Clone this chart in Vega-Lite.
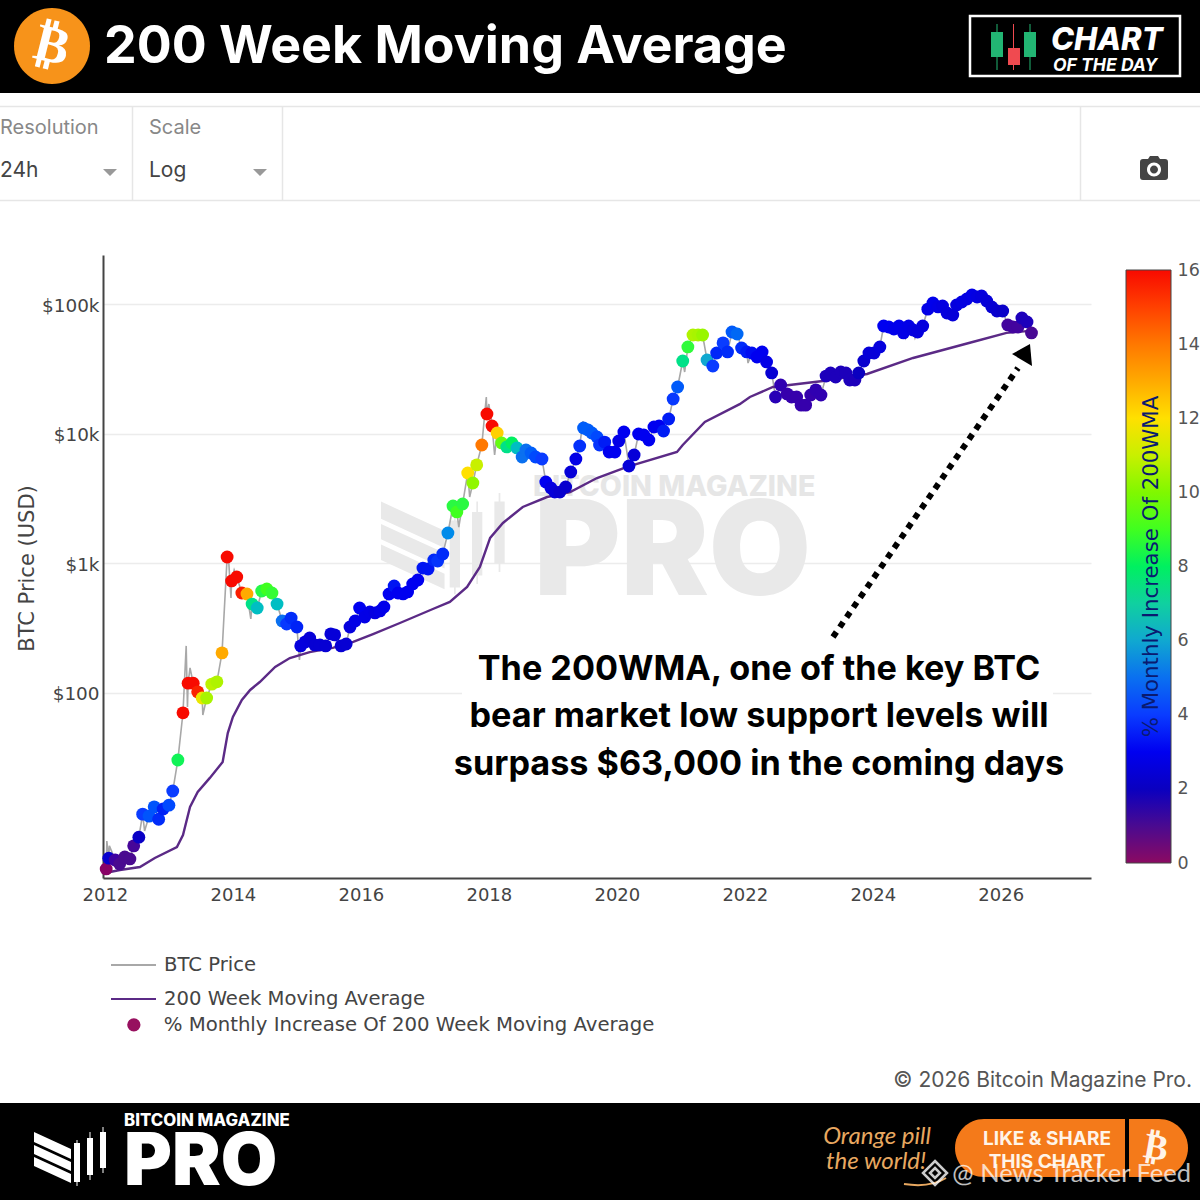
{
"$schema":"https://vega.github.io/schema/vega-lite/v6.json",
"width":988,"height":623,
"autosize":{"type":"none"},
"padding":{"left":103,"top":255,"right":109,"bottom":322},
"background":"#ffffff",
"datasets":{
"btc":[
{"t":2012.02,"price":4.38,"pct":0.1},{"t":2012.06,"price":5.3,"pct":2.3},{"t":2012.16,"price":5.13,"pct":1.4},{"t":2012.23,"price":4.78,"pct":1.0},{"t":2012.31,"price":5.42,"pct":1.0},{"t":2012.39,"price":5.23,"pct":1.0},{"t":2012.45,"price":6.6,"pct":1.2},{"t":2012.53,"price":7.7,"pct":2.1},{"t":2012.59,"price":11.6,"pct":4.0},{"t":2012.69,"price":11.2,"pct":4.4},{"t":2012.77,"price":13.2,"pct":4.4},{"t":2012.84,"price":10.6,"pct":3.6},{"t":2012.91,"price":12.7,"pct":3.4},{"t":2013.0,"price":13.6,"pct":4.2},{"t":2013.06,"price":17.5,"pct":4.0},{"t":2013.14,"price":30.4,"pct":8.2},{"t":2013.22,"price":70.3,"pct":16},{"t":2013.3,"price":119,"pct":16},{"t":2013.38,"price":119,"pct":16},{"t":2013.45,"price":102,"pct":15.7},{"t":2013.52,"price":91.5,"pct":11.6},{"t":2013.59,"price":91.5,"pct":10.5},{"t":2013.67,"price":117,"pct":10.8},{"t":2013.75,"price":122,"pct":10.6},{"t":2013.83,"price":204,"pct":13},{"t":2013.91,"price":1123,"pct":16},{"t":2013.98,"price":733,"pct":16},{"t":2014.06,"price":787,"pct":16},{"t":2014.14,"price":592,"pct":15.8},{"t":2014.22,"price":581,"pct":13},{"t":2014.3,"price":486,"pct":7.5},{"t":2014.38,"price":453,"pct":6.5},{"t":2014.45,"price":613,"pct":8.5},{"t":2014.53,"price":635,"pct":9},{"t":2014.61,"price":592,"pct":8.8},{"t":2014.69,"price":486,"pct":6.5},{"t":2014.77,"price":360,"pct":5},{"t":2014.84,"price":341,"pct":3.9},{"t":2014.91,"price":379,"pct":3.6},{"t":2015.0,"price":323,"pct":3.4},{"t":2015.06,"price":231,"pct":2.6},{"t":2015.13,"price":248,"pct":2.6},{"t":2015.2,"price":266,"pct":2.5},{"t":2015.28,"price":235,"pct":2.4},{"t":2015.36,"price":235,"pct":2.4},{"t":2015.45,"price":231,"pct":2.4},{"t":2015.53,"price":286,"pct":2.5},{"t":2015.59,"price":281,"pct":2.5},{"t":2015.69,"price":231,"pct":2.4},{"t":2015.77,"price":239,"pct":2.4},{"t":2015.83,"price":323,"pct":2.6},{"t":2015.91,"price":360,"pct":2.8},{"t":2015.98,"price":453,"pct":3},{"t":2016.06,"price":386,"pct":2.8},{"t":2016.14,"price":422,"pct":2.8},{"t":2016.22,"price":415,"pct":2.7},{"t":2016.3,"price":430,"pct":2.8},{"t":2016.36,"price":461,"pct":2.9},{"t":2016.44,"price":581,"pct":3},{"t":2016.52,"price":670,"pct":3.2},{"t":2016.58,"price":592,"pct":3},{"t":2016.66,"price":582,"pct":3},{"t":2016.73,"price":603,"pct":3},{"t":2016.81,"price":695,"pct":3},{"t":2016.89,"price":745,"pct":3},{"t":2016.97,"price":922,"pct":3.2},{"t":2017.05,"price":907,"pct":3.2},{"t":2017.14,"price":1064,"pct":3.5},{"t":2017.2,"price":1045,"pct":3.8},{"t":2017.28,"price":1184,"pct":3.6},{"t":2017.36,"price":1720,"pct":5.4},{"t":2017.44,"price":2780,"pct":8.6},{"t":2017.5,"price":2500,"pct":9},{"t":2017.59,"price":2880,"pct":8.6},{"t":2017.67,"price":5000,"pct":12},{"t":2017.75,"price":4180,"pct":10.2},{"t":2017.81,"price":5770,"pct":11},{"t":2017.89,"price":8220,"pct":14},{"t":2017.97,"price":14270,"pct":16},{"t":2018.05,"price":11530,"pct":16},{"t":2018.13,"price":10180,"pct":12.3},{"t":2018.2,"price":8530,"pct":9.5},{"t":2018.28,"price":7940,"pct":7.5},{"t":2018.36,"price":8530,"pct":8},{"t":2018.44,"price":7800,"pct":6.5},{"t":2018.52,"price":6640,"pct":5},{"t":2018.58,"price":7520,"pct":5},{"t":2018.66,"price":7130,"pct":4.6},{"t":2018.73,"price":6640,"pct":4.2},{"t":2018.83,"price":6410,"pct":4},{"t":2018.89,"price":4260,"pct":3},{"t":2018.97,"price":3830,"pct":2.7},{"t":2019.03,"price":3560,"pct":2.5},{"t":2019.11,"price":3560,"pct":2.3},{"t":2019.2,"price":3900,"pct":2.3},{"t":2019.28,"price":5090,"pct":2.5},{"t":2019.36,"price":6410,"pct":2.8},{"t":2019.42,"price":8080,"pct":3.7},{"t":2019.48,"price":11130,"pct":4.6},{"t":2019.55,"price":10740,"pct":4.6},{"t":2019.61,"price":10180,"pct":4.5},{"t":2019.69,"price":9480,"pct":4.2},{"t":2019.73,"price":8220,"pct":3.8},{"t":2019.81,"price":8650,"pct":3.3},{"t":2019.88,"price":7260,"pct":3},{"t":2019.97,"price":7260,"pct":3},{"t":2020.03,"price":8830,"pct":2.8},{"t":2020.11,"price":10360,"pct":3},{"t":2020.19,"price":5660,"pct":2.5},{"t":2020.27,"price":6890,"pct":2.5},{"t":2020.34,"price":10000,"pct":3},{"t":2020.42,"price":9820,"pct":3},{"t":2020.5,"price":8990,"pct":3},{"t":2020.58,"price":11330,"pct":3},{"t":2020.66,"price":11530,"pct":3},{"t":2020.73,"price":10550,"pct":3.3},{"t":2020.81,"price":13060,"pct":3.3},{"t":2020.88,"price":18630,"pct":3.9},{"t":2020.95,"price":23060,"pct":4.5},{"t":2021.03,"price":36600,"pct":7.5},{"t":2021.11,"price":47000,"pct":8.7},{"t":2021.19,"price":58100,"pct":10.6},{"t":2021.27,"price":58100,"pct":10.5},{"t":2021.34,"price":58100,"pct":10.3},{"t":2021.41,"price":37270,"pct":6},{"t":2021.5,"price":33500,"pct":4},{"t":2021.56,"price":42200,"pct":3.5},{"t":2021.66,"price":50500,"pct":4},{"t":2021.73,"price":43000,"pct":3.6},{"t":2021.8,"price":61300,"pct":4.5},{"t":2021.88,"price":59200,"pct":4.8},{"t":2021.95,"price":46100,"pct":3.6},{"t":2022.03,"price":43000,"pct":3.3},{"t":2022.11,"price":42200,"pct":3.1},{"t":2022.19,"price":39300,"pct":3},{"t":2022.27,"price":43000,"pct":3},{"t":2022.34,"price":36000,"pct":2.8},{"t":2022.42,"price":29600,"pct":2.4},{"t":2022.48,"price":19300,"pct":1.8},{"t":2022.56,"price":23900,"pct":1.7},{"t":2022.66,"price":20400,"pct":1.6},{"t":2022.73,"price":19300,"pct":1.6},{"t":2022.81,"price":19300,"pct":1.6},{"t":2022.88,"price":16700,"pct":1.6},{"t":2022.95,"price":16700,"pct":1.6},{"t":2023.03,"price":20000,"pct":1.6},{"t":2023.11,"price":21900,"pct":1.7},{"t":2023.19,"price":20000,"pct":1.7},{"t":2023.27,"price":28000,"pct":1.9},{"t":2023.34,"price":29600,"pct":1.9},{"t":2023.42,"price":27500,"pct":1.9},{"t":2023.5,"price":30100,"pct":1.9},{"t":2023.58,"price":29600,"pct":1.9},{"t":2023.64,"price":26100,"pct":1.9},{"t":2023.72,"price":26100,"pct":1.9},{"t":2023.78,"price":29600,"pct":2},{"t":2023.86,"price":36600,"pct":2.3},{"t":2023.94,"price":42200,"pct":2.5},{"t":2024.02,"price":42200,"pct":2.5},{"t":2024.11,"price":47000,"pct":2.6},{"t":2024.17,"price":68200,"pct":3},{"t":2024.25,"price":67000,"pct":3},{"t":2024.33,"price":64700,"pct":2.9},{"t":2024.41,"price":68200,"pct":2.9},{"t":2024.48,"price":60300,"pct":2.8},{"t":2024.56,"price":68200,"pct":2.8},{"t":2024.63,"price":63500,"pct":2.7},{"t":2024.7,"price":61300,"pct":2.6},{"t":2024.78,"price":68200,"pct":2.6},{"t":2024.86,"price":92000,"pct":2.8},{"t":2024.94,"price":102700,"pct":2.9},{"t":2025.02,"price":95700,"pct":2.8},{"t":2025.09,"price":97400,"pct":2.7},{"t":2025.16,"price":86000,"pct":2.6},{"t":2025.25,"price":83000,"pct":2.5},{"t":2025.31,"price":99000,"pct":2.6},{"t":2025.39,"price":104500,"pct":2.7},{"t":2025.47,"price":110300,"pct":2.7},{"t":2025.55,"price":118400,"pct":2.8},{"t":2025.63,"price":114300,"pct":2.7},{"t":2025.7,"price":116300,"pct":2.6},{"t":2025.78,"price":106400,"pct":2.5},{"t":2025.86,"price":95700,"pct":2.4},{"t":2025.94,"price":89000,"pct":2.3},{"t":2026.03,"price":89000,"pct":2.2},{"t":2026.11,"price":69500,"pct":1.3},{"t":2026.19,"price":67000,"pct":1.3},{"t":2026.27,"price":67000,"pct":1.3},{"t":2026.33,"price":78700,"pct":1.9},{"t":2026.41,"price":73300,"pct":1.9},{"t":2026.48,"price":60300,"pct":1.1},
{"t":2012.03,"price":7.2},{"t":2012.07,"price":6.6},{"t":2012.62,"price":8.6},{"t":2013.27,"price":231},{"t":2013.29,"price":78},{"t":2013.33,"price":156},{"t":2013.53,"price":67.6},{"t":2013.93,"price":1130},{"t":2013.97,"price":541},{"t":2014.02,"price":890},{"t":2014.28,"price":373},{"t":2015.04,"price":180},{"t":2017.53,"price":1910},{"t":2017.7,"price":3260},{"t":2017.96,"price":19300},{"t":2018.0,"price":17040},{"t":2018.09,"price":6890},{"t":2019.47,"price":12600},{"t":2021.06,"price":30100},{"t":2022.05,"price":35300},{"t":2024.51,"price":55100},{"t":2024.66,"price":55100}
],
"wma":[
{"t":2012.0,"price":4.07},{"t":2012.234,"price":4.3},{"t":2012.547,"price":4.53},{"t":2012.78,"price":5.32},{"t":2013.125,"price":6.47},{"t":2013.22,"price":8},{"t":2013.33,"price":13.2},{"t":2013.45,"price":17.2},{"t":2013.64,"price":22.1},{"t":2013.84,"price":29.3},{"t":2013.92,"price":49},{"t":2014.0,"price":65.3},{"t":2014.14,"price":88.3},{"t":2014.27,"price":105.5},{"t":2014.42,"price":121.6},{"t":2014.66,"price":158.7},{"t":2014.89,"price":186},{"t":2015.2,"price":207},{"t":2015.56,"price":223},{"t":2015.88,"price":248},{"t":2016.19,"price":285},{"t":2016.61,"price":347},{"t":2017.125,"price":445},{"t":2017.39,"price":505},{"t":2017.66,"price":659},{"t":2017.86,"price":940},{"t":2018.02,"price":1574},{"t":2018.22,"price":2055},{"t":2018.53,"price":2730},{"t":2018.91,"price":3260},{"t":2019.27,"price":3560},{"t":2019.69,"price":4570},{"t":2020.16,"price":5570},{"t":2020.94,"price":7260},{"t":2021.03,"price":8220},{"t":2021.375,"price":12380},{"t":2021.92,"price":17000},{"t":2022.08,"price":19300},{"t":2022.44,"price":23060},{"t":2023.22,"price":25640},{"t":2023.91,"price":29060},{"t":2024.63,"price":38620},{"t":2025.56,"price":51300},{"t":2026.09,"price":60300},{"t":2026.45,"price":62500}
]
},
"layer":[
{"data":{"values":[{}]},"mark":{"type":"point","shape":"M0,5L37,22V32L0,15Z M0,18L37,35V44L0,27Z M0,30L37,47V56L0,39Z M40,16H42.5V13H43.5V16H46V55H43.5V59H42.5V55H40Z M53,11H55.5V5H56.5V11H59V48H56.5V53H55.5V48H53Z M66,5H68.5V0H69.5V5H72V41H69.5V46H68.5V41H66Z","size":11.8,"x":278,"y":238,"filled":true,"fill":"#e9e9e9","strokeWidth":0,"opacity":1},"encoding":{}},
{"data":{"values":[{}]},"mark":{"type":"text","text":"BITCOIN MAGAZINE","x":430,"y":241,"align":"left","baseline":"alphabetic","font":"Inter","fontWeight":800,"fontSize":28.6,"fill":"#e6e6e6"},"encoding":{}},
{"data":{"values":[{}]},"mark":{"type":"text","text":"PRO","x":431,"y":340,"align":"left","baseline":"alphabetic","font":"Inter","fontWeight":900,"fontSize":132,"fill":"#e9e9e9"},"encoding":{}},
{"data":{"values":[{}]},"mark":{"type":"point","shape":"M462,650H1053V790H462Z","size":4,"x":-103,"y":-255,"filled":true,"fill":"#ffffff","strokeWidth":0,"opacity":1},"encoding":{}},
{"layer":[
{"data":{"name":"btc"},"mark":{"type":"line","strokeWidth":1.6,"interpolate":"linear"},
 "encoding":{
  "x":{"field":"t","type":"quantitative","scale":{"domain":[2011.97,2027.41],"nice":false,"zero":false},
   "axis":{"values":[2012,2014,2016,2018,2020,2022,2024,2026],"format":"d","title":null,"grid":false,"ticks":false,"labelPadding":8,"labelFont":"DejaVu Sans","labelFontSize":18,"labelColor":"#444444","domainColor":"#444444","domainWidth":2,"labelOverlap":false}},
  "y":{"field":"price","type":"quantitative","scale":{"type":"log","domain":[3.727,241000],"nice":false},
   "axis":{"orient":"left","values":[100,1000,10000,100000],"labelExpr":"datum.value>=1000?'$'+(datum.value/1000)+'k':'$'+datum.value","title":"BTC Price (USD)","titleFont":"DejaVu Sans","titleFontSize":21,"titleFontWeight":"normal","titleColor":"#444444","titleX":-76,"titleY":313,"titleBaseline":"middle","grid":true,"gridColor":"#ececec","gridWidth":1.5,"ticks":false,"labelPadding":4,"labelOffset":1,"labelFont":"DejaVu Sans","labelFontSize":18.4,"labelColor":"#444444","domainColor":"#444444","domainWidth":2,"labelOverlap":false}},
  "stroke":{"datum":"BTC Price","type":"nominal","scale":{"domain":["BTC Price","200 Week Moving Average"],"range":["#a8a8a8","#5b2a86"]},
   "legend":{"title":null,"orient":"none","legendX":7,"legendY":686.5,"padding":0,"symbolType":"stroke","symbolSize":2025,"symbolStrokeWidth":2,"labelFont":"DejaVu Sans","labelFontSize":19.6,"labelColor":"#444444","labelOffset":7,"rowPadding":-10,"labelLimit":600}}
 }},
{"data":{"name":"wma"},"mark":{"type":"line","strokeWidth":2.4,"interpolate":"linear"},
 "encoding":{
  "x":{"field":"t","type":"quantitative"},
  "y":{"field":"price","type":"quantitative"},
  "stroke":{"datum":"200 Week Moving Average","type":"nominal"}
 }},
{"data":{"name":"btc"},"transform":[{"filter":"isValid(datum.pct)"}],"mark":{"type":"point","filled":true,"opacity":1,"size":165,"strokeWidth":0},
 "encoding":{
  "x":{"field":"t","type":"quantitative"},
  "y":{"field":"price","type":"quantitative"},
  "shape":{"datum":"% Monthly Increase Of 200 Week Moving Average","type":"nominal","scale":{"range":["circle"]},
   "legend":{"title":null,"orient":"none","legendX":21,"legendY":760,"padding":0,"symbolFillColor":"#97105f","symbolStrokeColor":"#97105f","symbolSize":140,"symbolOpacity":1,"labelFont":"DejaVu Sans","labelFontSize":19.7,"labelColor":"#444444","labelOffset":20,"labelLimit":700}},
  "color":{"field":"pct","type":"quantitative","scale":{"type":"linear","domain":[0,1,2,3,4,5,6,7,8,9,10,11,12,13,14,15,16],"range":["#8b0a62","#4a0a90","#0a00c0","#0000f0","#0a3cff","#0a70f0","#10a8d0","#10d0a0","#00f060","#40ff20","#80f800","#c8f000","#ffe000","#ffaa00","#ff7800","#ff4000","#f80a00"]},
   "legend":{"title":null,"orient":"none","legendX":1023,"legendY":15,"padding":0,"direction":"vertical","gradientLength":593,"gradientThickness":45,"gradientStrokeColor":"#444444","gradientStrokeWidth":1,"values":[0,2,4,6,8,10,12,14,16],"labelExpr":"''","labelOffset":0}}
 }}
]},
{"data":{"values":[{"pct":0},{"pct":16}]},"mark":{"type":"point","opacity":0},
 "encoding":{
  "y":{"field":"pct","type":"quantitative","scale":{"domain":[0,16],"range":[608,15],"nice":false,"zero":false},
   "axis":{"orient":"right","offset":81,"zindex":1,"values":[0,2,4,6,8,10,12,14,16],"domain":false,"ticks":false,"grid":false,"labelPadding":5,"labelFont":"DejaVu Sans","labelFontSize":17.5,"labelColor":"#555555","labelOverlap":false,"labelBound":false,"labelFlush":false,"title":"% Monthly Increase Of 200WMA","titleFont":"DejaVu Sans","titleFontSize":21.3,"titleFontWeight":"normal","titleColor":"#0a1a70","titleAngle":270,"titleX":-21,"titleY":311,"titleBaseline":"middle","titleAlign":"center"}}
 }},
{"data":{"values":[{}]},"mark":{"type":"point","shape":"M833,637L1018,368","size":4,"x":-103,"y":-255,"filled":false,"stroke":"#000000","strokeWidth":6,"strokeDash":[6,6],"opacity":1},"encoding":{}},
{"data":{"values":[{}]},"mark":{"type":"point","shape":"M1030,344L1012,354L1032,366Z","size":4,"x":-103,"y":-255,"filled":true,"fill":"#000000","strokeWidth":0,"opacity":1},"encoding":{}},
{"data":{"values":[{}]},"mark":{"type":"text","text":"The 200WMA, one of the key BTC","x":656,"y":425,"align":"center","baseline":"alphabetic","font":"Inter","fontWeight":700,"fontSize":34.2,"fill":"#000000"},"encoding":{}},
{"data":{"values":[{}]},"mark":{"type":"text","text":"bear market low support levels will","x":656,"y":472,"align":"center","baseline":"alphabetic","font":"Inter","fontWeight":700,"fontSize":34.2,"fill":"#000000"},"encoding":{}},
{"data":{"values":[{}]},"mark":{"type":"text","text":"surpass $63,000 in the coming days","x":656,"y":520,"align":"center","baseline":"alphabetic","font":"Inter","fontWeight":700,"fontSize":34.2,"fill":"#000000"},"encoding":{}},
{"data":{"values":[{}]},"mark":{"type":"point","shape":"M0,0H1200V93H0Z M0,1103H1200V1200H0Z","size":4,"x":-103,"y":-255,"filled":true,"fill":"#000000","strokeWidth":0,"opacity":1},"encoding":{}},
{"data":{"values":[{}]},"mark":{"type":"point","shape":"M0,106.5H1200M0,200.5H1200M132.5,106V200M282.5,106V200M1080.5,106V200","size":4,"x":-103,"y":-255,"filled":false,"stroke":"#e6e6e6","strokeWidth":1.5,"opacity":1},"encoding":{}},
{"data":{"values":[{}]},"mark":{"type":"point","shape":"M103,169H117L110,176Z M253,169H267L260,176Z","size":4,"x":-103,"y":-255,"filled":true,"fill":"#999999","strokeWidth":0,"opacity":1},"encoding":{}},
{"data":{"values":[{}]},"mark":{"type":"point","shape":"M1143,159H1148L1150,156H1158L1160,159H1165Q1168,159 1168,162V177Q1168,180 1165,180H1143Q1140,180 1140,177V162Q1140,159 1143,159Z","size":4,"x":-103,"y":-255,"filled":true,"fill":"#444444","strokeWidth":0,"opacity":1},"encoding":{}},
{"data":{"values":[{}]},"mark":{"type":"point","shape":"M1147,169.5a7,7 0 1,0 14,0a7,7 0 1,0 -14,0Z","size":4,"x":-103,"y":-255,"filled":true,"fill":"#ffffff","strokeWidth":0,"opacity":1},"encoding":{}},
{"data":{"values":[{}]},"mark":{"type":"point","shape":"M1150,169.5a4,4 0 1,0 8,0a4,4 0 1,0 -8,0Z","size":4,"x":-103,"y":-255,"filled":true,"fill":"#444444","strokeWidth":0,"opacity":1},"encoding":{}},
{"data":{"values":[{}]},"mark":{"type":"text","text":"Resolution","x":-103,"y":-121,"align":"left","baseline":"alphabetic","font":"Inter","fontSize":20,"fill":"#888888"},"encoding":{}},
{"data":{"values":[{}]},"mark":{"type":"text","text":"Scale","x":46,"y":-121,"align":"left","baseline":"alphabetic","font":"Inter","fontSize":20,"fill":"#888888"},"encoding":{}},
{"data":{"values":[{}]},"mark":{"type":"text","text":"24h","x":-103,"y":-78,"align":"left","baseline":"alphabetic","font":"Inter","fontSize":21,"fill":"#444444"},"encoding":{}},
{"data":{"values":[{}]},"mark":{"type":"text","text":"Log","x":46,"y":-78,"align":"left","baseline":"alphabetic","font":"Inter","fontSize":21,"fill":"#444444"},"encoding":{}},
{"data":{"values":[{}]},"mark":{"type":"point","shape":"M14,46a38,38 0 1,0 76,0a38,38 0 1,0 -76,0Z","size":4,"x":-103,"y":-255,"filled":true,"fill":"#f7931a","strokeWidth":0,"opacity":1},"encoding":{}},
{"data":{"values":[{}]},"mark":{"type":"text","text":"₿","x":-51,"y":-209,"angle":14,"align":"center","baseline":"middle","font":"DejaVu Sans","fontWeight":"bold","fontSize":52,"fill":"#ffffff"},"encoding":{}},
{"data":{"values":[{}]},"mark":{"type":"text","text":"200 Week Moving Average","x":1,"y":-192,"align":"left","baseline":"alphabetic","font":"Inter","fontWeight":700,"fontSize":51.9,"fill":"#ffffff"},"encoding":{}},
{"data":{"values":[{}]},"mark":{"type":"point","shape":"M970,16H1180V76H970Z","size":4,"x":-103,"y":-255,"filled":false,"stroke":"#ffffff","strokeWidth":2.5,"opacity":1},"encoding":{}},
{"data":{"values":[{}]},"mark":{"type":"point","shape":"M991,32H996.5V24H997.5V32H1003V57H997.5V70H996.5V57H991Z M1024,32H1029.5V24H1030.5V32H1036V57H1030.5V70H1029.5V57H1024Z","size":4,"x":-103,"y":-255,"filled":true,"fill":"#22b573","strokeWidth":0,"opacity":1},"encoding":{}},
{"data":{"values":[{}]},"mark":{"type":"point","shape":"M1008,48H1013V24H1014V48H1020V65H1014V70H1013V65H1008Z","size":4,"x":-103,"y":-255,"filled":true,"fill":"#f04a50","strokeWidth":0,"opacity":1},"encoding":{}},
{"data":{"values":[{}]},"mark":{"type":"text","text":"CHART","x":948,"y":-205,"align":"left","baseline":"alphabetic","font":"Inter","fontWeight":800,"fontStyle":"italic","fontSize":31,"fill":"#ffffff"},"encoding":{}},
{"data":{"values":[{}]},"mark":{"type":"text","text":"OF THE DAY","x":950,"y":-184,"align":"left","baseline":"alphabetic","font":"Inter","fontWeight":700,"fontStyle":"italic","fontSize":17.6,"fill":"#ffffff"},"encoding":{}},
{"data":{"values":[{}]},"mark":{"type":"text","text":"© 2026 Bitcoin Magazine Pro.","x":1089,"y":832,"align":"right","baseline":"alphabetic","font":"Inter","fontSize":21,"fill":"#555555"},"encoding":{}},
{"data":{"values":[{}]},"mark":{"type":"point","shape":"M0,5L37,22V32L0,15Z M0,18L37,35V44L0,27Z M0,30L37,47V56L0,39Z M40,16H42.5V13H43.5V16H46V55H43.5V59H42.5V55H40Z M53,11H55.5V5H56.5V11H59V48H56.5V53H55.5V48H53Z M66,5H68.5V0H69.5V5H72V41H69.5V46H68.5V41H66Z","size":4,"x":-69,"y":872,"filled":true,"fill":"#ffffff","strokeWidth":0,"opacity":1},"encoding":{}},
{"data":{"values":[{}]},"mark":{"type":"text","text":"BITCOIN MAGAZINE","x":21,"y":871,"align":"left","baseline":"alphabetic","font":"Inter","fontWeight":800,"fontSize":16.8,"fill":"#ffffff"},"encoding":{}},
{"data":{"values":[{}]},"mark":{"type":"text","text":"PRO","x":21,"y":930,"align":"left","baseline":"alphabetic","font":"Inter","fontWeight":900,"fontSize":73,"fill":"#ffffff"},"encoding":{}},
{"data":{"values":[{}]},"mark":{"type":"text","text":"Orange pill","x":774,"y":889,"align":"center","baseline":"alphabetic","font":"Lato","fontStyle":"italic","fontSize":24,"fill":"#e8a860"},"encoding":{}},
{"data":{"values":[{}]},"mark":{"type":"text","text":"the world!","x":773,"y":914,"align":"center","baseline":"alphabetic","font":"Lato","fontStyle":"italic","fontSize":24,"fill":"#e8a860"},"encoding":{}},
{"data":{"values":[{}]},"mark":{"type":"point","shape":"M904,1184Q930,1188 946,1178","size":4,"x":-103,"y":-255,"filled":false,"stroke":"#e8a860","strokeWidth":2,"opacity":1},"encoding":{}},
{"data":{"values":[{}]},"mark":{"type":"point","shape":"M984,1119H1159A29,29 0 0 1 1159,1177H984A29,29 0 0 1 984,1119Z","size":4,"x":-103,"y":-255,"filled":true,"fill":"#f47a1a","strokeWidth":0,"opacity":1},"encoding":{}},
{"data":{"values":[{}]},"mark":{"type":"point","shape":"M1127,1119V1178","size":4,"x":-103,"y":-255,"filled":false,"stroke":"#000000","strokeWidth":4,"opacity":1},"encoding":{}},
{"data":{"values":[{}]},"mark":{"type":"text","text":"LIKE & SHARE","x":944,"y":890,"align":"center","baseline":"alphabetic","font":"Inter","fontWeight":700,"fontSize":19,"fill":"#fff4e8"},"encoding":{}},
{"data":{"values":[{}]},"mark":{"type":"text","text":"THIS CHART","x":944,"y":913,"align":"center","baseline":"alphabetic","font":"Inter","fontWeight":700,"fontSize":19,"fill":"#fff4e8"},"encoding":{}},
{"data":{"values":[{}]},"mark":{"type":"text","text":"₿","x":1053,"y":893,"angle":10,"align":"center","baseline":"middle","font":"DejaVu Sans","fontWeight":"bold","fontSize":36,"fill":"#fff4e8"},"encoding":{}},
{"data":{"values":[{}]},"mark":{"type":"point","shape":"M935,1161L947,1173L935,1185L923,1173Z M935,1168L940,1173L935,1178L930,1173Z","size":4,"x":-103,"y":-255,"filled":false,"stroke":"#ffffff","strokeWidth":2.5,"opacity":0.8},"encoding":{}},
{"data":{"values":[{}]},"mark":{"type":"text","text":"@ News Tracker Feed","x":1088,"y":927,"align":"right","baseline":"alphabetic","font":"Lato","fontSize":25.5,"fill":"#ffffff","opacity":0.75},"encoding":{}}
],
"resolve":{"scale":{"y":"independent"},"axis":{"y":"independent"}},
"config":{"view":{"stroke":null}}
}
